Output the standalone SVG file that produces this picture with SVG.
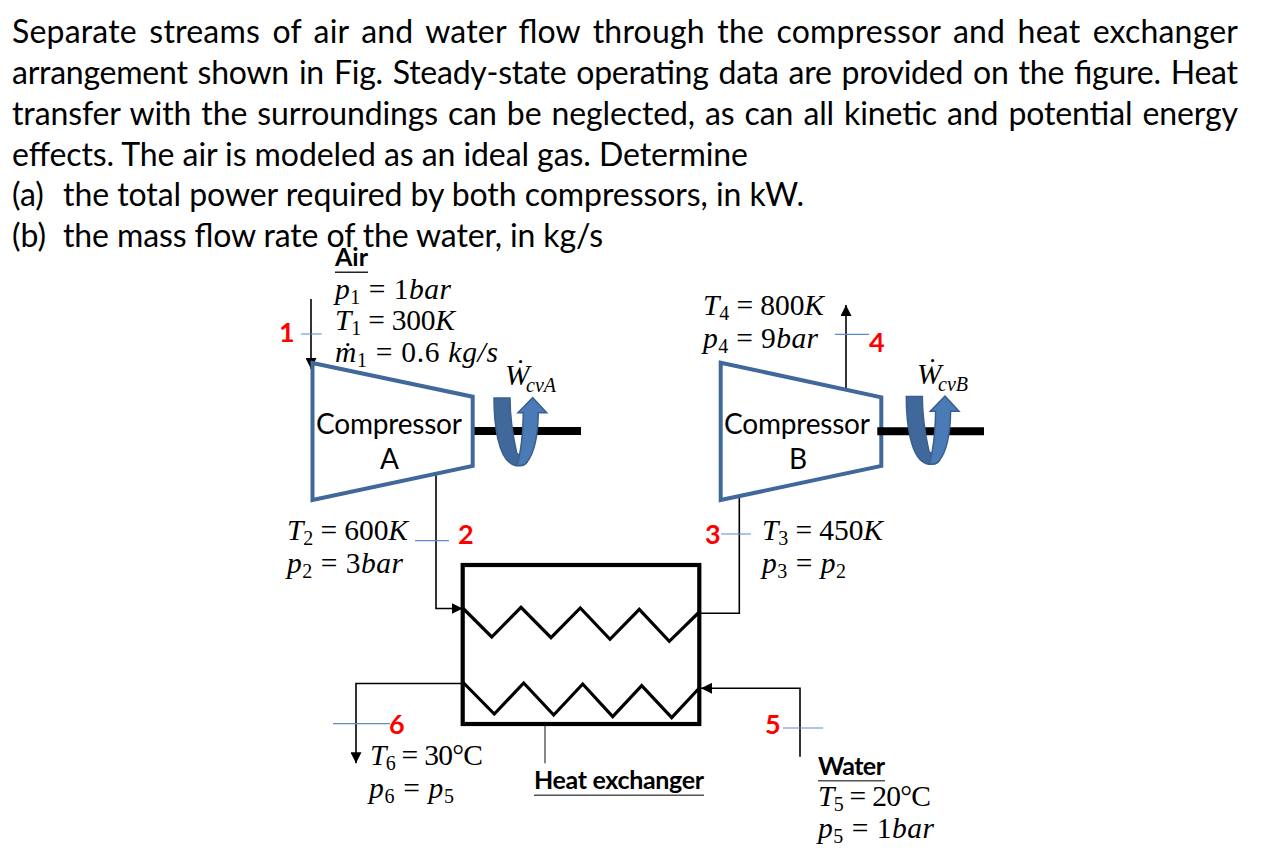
<svg xmlns="http://www.w3.org/2000/svg" xmlns:xlink="http://www.w3.org/1999/xlink" width="1263" height="850" viewBox="0 0 1263 850">
<style>
text{font-family:"Lato","Liberation Sans",sans-serif;fill:#000}
.q{font-size:32px}
.lab{font-size:28px}
.b{font-size:25px;font-weight:700}
.n{font-size:27px;font-weight:700;fill:#f00}
.m{font-family:"Liberation Serif",serif;font-size:29.5px}
.m .i{font-style:italic}
.m .s{font-size:20px}
.comp{fill:#fff;stroke:#41689a;stroke-width:4;stroke-linejoin:miter}
.shaft{stroke:#000;stroke-width:8;fill:none}
.pipe{stroke:#000;stroke-width:1.6;fill:none}
.tick{stroke:#5b8ac4;stroke-width:1.2;fill:none}
.hx{fill:#fff;stroke:#000;stroke-width:4.2}
.zig{fill:none;stroke:#000;stroke-width:3.2}
.ul{stroke:#555;stroke-width:1.4;fill:none}
</style>
<defs>
<marker id="ah" viewBox="0 0 11 11" refX="11" refY="5.5" markerWidth="11" markerHeight="11" markerUnits="userSpaceOnUse" orient="auto"><path d="M0,0L11,5.5L0,11Z" fill="#000"/></marker>
<g id="rot">
<path d="M516.7,453C512,432 510,412 510,398L494,398C494,420 497,462 516,465.7C521,466 525,465 527,462Z" fill="#41689a" stroke="#3a5f8e" stroke-width="1.5"/>
<path d="M523.3,412.7L518,412.7L532.7,397.7L546.7,412.7L538.3,412.7C538,432 535,452 527,462C524,466 520,466 517,465C520,455 523,435 523.3,412.7Z" fill="#4a7bb7" stroke="#3a5f8e" stroke-width="1.5"/>
</g>
</defs>
<rect width="1263" height="850" fill="#fff"/>
<g id="question">
<text class="q" x="12" y="43" textLength="1226" word-spacing="4">Separate streams of air and water flow through the compressor and heat exchanger</text>
<text class="q" x="12" y="84" textLength="1226" word-spacing="2">arrangement shown in Fig. Steady-state operating data are provided on the figure. Heat</text>
<text class="q" x="12" y="125" textLength="1226" word-spacing="2">transfer with the surroundings can be neglected, as can all kinetic and potential energy</text>
<text class="q" x="12" y="166" textLength="736">effects. The air is modeled as an ideal gas. Determine</text>
<text class="q" x="12" y="206">(a)</text>
<text class="q" x="63" y="206" textLength="741">the total power required by both compressors, in kW.</text>
<text class="q" x="12" y="247">(b)</text>
<text class="q" x="63" y="247" textLength="540">the mass flow rate of the water, in kg/s</text>
</g>
<g id="connectors">
<path class="pipe" d="M311,299V369" marker-end="url(#ah)"/>
<path class="pipe" d="M436,473V608.5H462.7" marker-end="url(#ah)"/>
<path class="pipe" d="M739.3,496V613.3H700"/>
<path class="pipe" d="M846,391V305" marker-end="url(#ah)"/>
<path class="pipe" d="M800,756.7V688.3H701" marker-end="url(#ah)"/>
<path class="pipe" d="M462,683.5H356V763.3" marker-end="url(#ah)"/>
<path class="ul" d="M545,724V763.3"/>
<path class="tick" d="M301,334H321.7M415,540.7H449M721,534H751M835,334.3H869M783,728H823M333,723.7H390"/>
</g>
<g id="compressor-a">
<path class="shaft" d="M473,431H581"/>
<path class="comp" d="M312.5,363L472.7,396.7V466L312.5,500Z"/>
<use xlink:href="#rot" href="#rot"/>
<text class="lab" x="316" y="434" textLength="146">Compressor</text>
<text class="lab" x="389.6" y="469" text-anchor="middle">A</text>
<text class="m" x="505" y="385"><tspan class="i">Ẇ</tspan><tspan class="i s" x="526" dy="6.5">cvA</tspan></text>
</g>
<g id="compressor-b">
<path class="comp" d="M720.7,362.7L881.3,397.3V466L720.7,500Z"/>
<path class="shaft" d="M877.3,431.3H984"/>
<use xlink:href="#rot" href="#rot" transform="translate(412.3,-1.5)"/>
<text class="lab" x="724" y="434" textLength="146">Compressor</text>
<text class="lab" x="798" y="469" text-anchor="middle">B</text>
<text class="m" x="917" y="384"><tspan class="i">Ẇ</tspan><tspan class="i s" x="938" dy="6.5">cvB</tspan></text>
</g>
<g id="heat-exchanger">
<rect class="hx" x="462.7" y="565" width="236.6" height="159"/>
<path class="zig" d="M462.7,608L491.7,637L521,607.3L551,637.7L580.3,608L610,639.3L639.3,609.3L669.3,641.3L699.3,612"/>
<path class="zig" d="M462.7,682L494.3,714L523.7,683L553.7,715L582.7,684L612.7,716.7L641.7,685.7L671.7,717.7L699.3,688"/>
<text class="b" x="534" y="789" textLength="170">Heat exchanger</text>
<path class="ul" d="M534,795.3H704"/>
</g>
<g id="state-1">
<text class="b" x="335" y="266" textLength="33">Air</text>
<path class="ul" d="M335,272.3H368" style="stroke:#222"/>
<text class="n" x="279" y="342">1</text>
<text class="m" x="335" y="299" textLength="116"><tspan class="i">p</tspan><tspan class="s" dy="5">1</tspan><tspan dy="-5"> = 1</tspan><tspan class="i">bar</tspan></text>
<text class="m" x="335" y="330" textLength="120"><tspan class="i">T</tspan><tspan class="s" dy="5">1</tspan><tspan dy="-5"> = 300</tspan><tspan class="i">K</tspan></text>
<text class="m" x="335" y="362" textLength="163"><tspan class="i">ṁ</tspan><tspan class="s" dy="5">1</tspan><tspan dy="-5"> = 0.6 </tspan><tspan class="i">kg/s</tspan></text>
</g>
<g id="state-2">
<text class="n" x="458" y="544">2</text>
<text class="m" x="287" y="540" textLength="121"><tspan class="i">T</tspan><tspan class="s" dy="5">2</tspan><tspan dy="-5"> = 600</tspan><tspan class="i">K</tspan></text>
<text class="m" x="287" y="573" textLength="116"><tspan class="i">p</tspan><tspan class="s" dy="5">2</tspan><tspan dy="-5"> = 3</tspan><tspan class="i">bar</tspan></text>
</g>
<g id="state-3">
<text class="n" x="705" y="544">3</text>
<text class="m" x="762" y="540" textLength="121"><tspan class="i">T</tspan><tspan class="s" dy="5">3</tspan><tspan dy="-5"> = 450</tspan><tspan class="i">K</tspan></text>
<text class="m" x="762" y="573" textLength="84"><tspan class="i">p</tspan><tspan class="s" dy="5">3</tspan><tspan dy="-5"> = </tspan><tspan class="i">p</tspan><tspan class="s" dy="5">2</tspan></text>
</g>
<g id="state-4">
<text class="n" x="869" y="352">4</text>
<text class="m" x="703" y="315" textLength="121"><tspan class="i">T</tspan><tspan class="s" dy="5">4</tspan><tspan dy="-5"> = 800</tspan><tspan class="i">K</tspan></text>
<text class="m" x="703" y="348" textLength="115"><tspan class="i">p</tspan><tspan class="s" dy="5">4</tspan><tspan dy="-5"> = 9</tspan><tspan class="i">bar</tspan></text>
</g>
<g id="state-5">
<text class="n" x="765" y="734">5</text>
<text class="b" x="818" y="775" textLength="67">Water</text>
<path class="ul" d="M818,780.7H885"/>
<text class="m" x="818" y="806" textLength="113"><tspan class="i">T</tspan><tspan class="s" dy="5">5</tspan><tspan dy="-5"> = 20°C</tspan></text>
<text class="m" x="818" y="838" textLength="116"><tspan class="i">p</tspan><tspan class="s" dy="5">5</tspan><tspan dy="-5"> = 1</tspan><tspan class="i">bar</tspan></text>
</g>
<g id="state-6">
<text class="n" x="389" y="734">6</text>
<text class="m" x="370" y="765" textLength="113"><tspan class="i">T</tspan><tspan class="s" dy="5">6</tspan><tspan dy="-5"> = 30°C</tspan></text>
<text class="m" x="369" y="798" textLength="85"><tspan class="i">p</tspan><tspan class="s" dy="5">6</tspan><tspan dy="-5"> = </tspan><tspan class="i">p</tspan><tspan class="s" dy="5">5</tspan></text>
</g>
</svg>
